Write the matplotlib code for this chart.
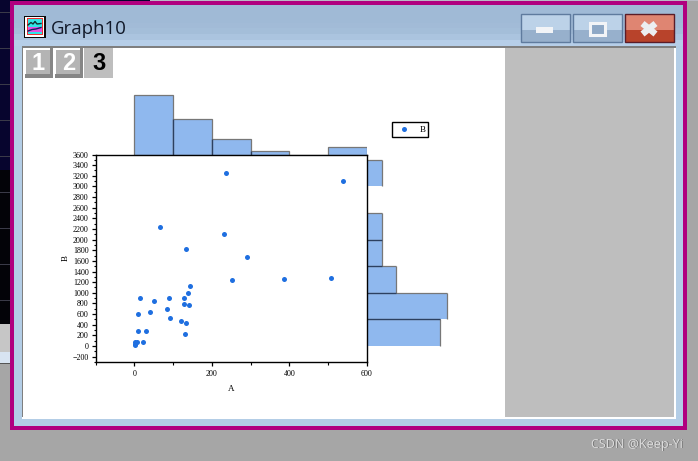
import numpy as np
import matplotlib
matplotlib.use("Agg")
import matplotlib.pyplot as plt
from matplotlib.patches import Rectangle

# ---- data ----
A = [134, 290, 253, 144.5, 138.5, 14, 90, 129, 52, 127, 141, 84, 41.5, 10, 93, 120, 134,
     10, 29, 132, 23, 8, 1, 1, 2, 67, 232, 237, 539, 386, 507]
B = [1830, 1673, 1240, 1134, 990, 896, 902, 896, 840, 796, 764, 689, 633, 595, 520, 476, 426,
     276, 276, 220, 70, 70, 70, 13, 40, 2243, 2111, 3258, 3107, 1259, 1283]
A_bins = [0, 100, 200, 300, 400, 500, 600]
B_bins = [0, 500, 1000, 1500, 2000, 2500, 3000, 3500]
x_ticks = [0, 200, 400, 600]
y_ticks = list(range(-200, 3601, 200))
tabs = ["1", "2", "3"]

W, H = 698, 461
fig = plt.figure(figsize=(W / 100, H / 100), dpi=100)
bg = fig.add_axes([0, 0, 1, 1])


def box(x0, y0, x1, y1, color, z=1):
    bg.add_patch(Rectangle((x0, y0), x1 - x0, y1 - y0, facecolor=color, edgecolor="none", zorder=z))


# desktop behind the window
box(0, 0, W, H, "#a6a6a6")
box(0, 0, 150, 1, "#07052e")
box(150, 0, W, 1, "#b9b9c4")
box(0, 0, 10, 170, "#07052e")
box(0, 170, 10, 324, "#030308")
for yy in range(12, 324, 36):
    box(0, yy, 10, yy + 1, "#3a3a48", 1.1)
box(0, 324, 10, 352, "#c6c6c6")
box(0, 352, 10, 363, "#d8e4f2")
box(0, 363, 10, 364, "#555555")

# window frame
box(10, 1, 687, 430, "#b0007f", 2)
box(14, 5, 683, 426, "#b3cde6", 3)
bg.imshow(np.array([0, 0, 0, 0.1, 0.2, 0.5, 1]).reshape(-1, 1), extent=(14, 683, 46, 5), aspect="auto",
          cmap=matplotlib.colors.LinearSegmentedColormap.from_list("t", ["#a0bad6", "#b6cee8"]), zorder=3.1)
bg.set_xlim(0, W)
bg.set_ylim(H, 0)
bg.axis("off")
box(22, 46, 676, 419, "#ffffff", 3.5)
box(22, 46, 676, 48, "#7f7f7f", 5)
box(22, 46, 23, 417, "#7f7f7f", 5)
box(23, 48, 505, 417, "#ffffff", 4)
box(505, 48, 674, 417, "#bebebe", 4)

# window icon
box(23.5, 16, 45.5, 38.5, "#0a0a0a", 5)
box(25, 17.5, 44, 37, "#ffffff", 5.1)
box(26.5, 18.5, 42.5, 35, "#ee3030", 5.2)
box(27.5, 19.5, 41.5, 34, "#2ee6e6", 5.3)
box(27.5, 27, 41.5, 32, "#e050e0", 5.4)
bg.plot([28, 31, 33, 35, 37, 41], [25, 22.5, 24, 21.5, 24, 23.5], color="#103030", lw=1, zorder=5.5)
bg.plot([28, 32, 36, 41], [31, 29.5, 29, 27.5], color="#102060", lw=1, zorder=5.5)
bg.text(51, 29.5, "Graph10", fontsize=13.4, family="Open Sans", color="#101828", va="center", ha="left", zorder=6)

# window buttons
for x0, x1, c1, c2, e in [(520.5, 569.5, "#bcd2e8", "#97b0cc", "#5f7b9e"),
                          (572.5, 621.5, "#bcd2e8", "#97b0cc", "#5f7b9e"),
                          (624.5, 673.5, "#df8572", "#b8432b", "#5a1c28")]:
    box(x0, 14.5, x1, 30, c1, 5)
    box(x0, 30, x1, 42.5, c2, 5)
    bg.add_patch(Rectangle((x0, 14.5), x1 - x0, 28, fill=False, edgecolor=e, lw=1, zorder=5.5))
box(536, 27, 553, 33, "#f2f4f7", 6)
bg.add_patch(Rectangle((589.5, 23), 15, 12, facecolor="#8ea8c6", edgecolor="#f2f4f7", lw=2.2, zorder=6))
bg.plot([642.5, 655.5], [23.5, 34], color="#eceef1", lw=4.6, zorder=6, solid_capstyle="butt")
bg.plot([642.5, 655.5], [34, 23.5], color="#eceef1", lw=4.6, zorder=6, solid_capstyle="butt")

# page tabs
for i, (t, x0) in enumerate(zip(tabs, [24.5, 54.5, 83.5])):
    x1 = x0 + 29
    if i < 2:
        box(x0, 48.5, x1 - 1, 78, "#868686", 5)
        box(x0, 48.5, x1 - 4, 74.5, "#ffffff", 5.1)
        box(x0 + 1.5, 50.5, x1 - 4, 74.5, "#b4b4b4", 5.2)
        bg.text(x0 + 14, 63.5, t, fontsize=17, fontweight="bold", family="Liberation Sans", color="#ffffff",
                ha="center", va="center", zorder=6)
    else:
        box(x0, 48, x1, 78, "#bebebe", 5)
        bg.text(x0 + 15.5, 63.5, t, fontsize=17, fontweight="bold", family="Liberation Sans", color="#000000",
                ha="center", va="center", zorder=6)

bg.text(683.5, 444.5, "CSDN @Keep-Yi", fontsize=9, family="Open Sans", color="#777777", ha="right", va="center", zorder=6)
bg.text(683, 444, "CSDN @Keep-Yi", fontsize=9, family="Open Sans", color="#dcdcdc", ha="right", va="center", zorder=6.1)


def axes_px(x0, y0, x1, y1, **kw):
    return fig.add_axes([x0 / W, 1 - y1 / H, (x1 - x0) / W, (y1 - y0) / H], **kw)


L, R, T, Bm = 95.5, 367, 154.5, 362
xlim = (-100, 600)
ylim = (-301, 3600)
bar_fc = "#8fb8ee"
edge_out = "#777777"
edge_in = "#2c4060"
lw_e = 0.9

# top marginal histogram
top = axes_px(L, T - 66, R, T)
cA, _ = np.histogram(A, bins=A_bins)
top.bar(A_bins[:-1], cA, width=100, align="edge", color=bar_fc, edgecolor=edge_out, lw=lw_e)
for k in range(1, len(cA)):
    top.vlines(A_bins[k], 0, min(cA[k - 1], cA[k]), color=edge_in, lw=lw_e)
top.set_xlim(xlim)
top.set_ylim(0, 66 / 3.95)
top.axis("off")

# right marginal histogram
right = axes_px(R, T, R + 90, Bm)
cB, _ = np.histogram(B, bins=B_bins)
right.barh(B_bins[:-1], cB, height=500, align="edge", color=bar_fc, edgecolor="none")
for k, c in enumerate(cB):
    if c:
        right.vlines(c, B_bins[k], B_bins[k + 1], color=edge_out, lw=lw_e)
        right.hlines(B_bins[k + 1], 0, c, color=edge_out, lw=lw_e)
        if k and cB[k - 1]:
            right.hlines(B_bins[k], 0, min(cB[k - 1], c), color=edge_in, lw=lw_e)
right.set_ylim(ylim)
right.set_xlim(0, 90 / 7.26)
right.axis("off")

# main scatter
ax = axes_px(L, T, R, Bm)
ax.set_zorder(5)
ax.set_facecolor("white")
ax.plot(A, B, "o", color="#1f6fe0", ms=3.6, mew=0, clip_on=False, label="B")
ax.set_xlim(xlim)
ax.set_ylim(ylim)
ax.set_xticks(x_ticks)
ax.set_xticks([-100, 100, 300, 500], minor=True)
ax.set_yticks(y_ticks)
ax.set_yticks(np.arange(-300, 3600, 200), minor=True)
ax.tick_params(which="major", length=2.9, width=0.9, labelsize=5.8, pad=2)
ax.tick_params(axis="x", which="major", pad=3)
ax.tick_params(which="minor", length=1.8, width=0.8)
for lab in ax.get_xticklabels() + ax.get_yticklabels():
    lab.set_family("Liberation Serif")
for s in ax.spines.values():
    s.set_linewidth(1)
ax.set_xlabel("A", fontsize=6.5, family="Liberation Serif", labelpad=5)
ax.set_ylabel("B", fontsize=6.5, family="Liberation Serif", labelpad=2)

# legend box
bg.add_patch(Rectangle((391.5, 121.5), 36, 15, facecolor="white", edgecolor="black", lw=1, zorder=6))
bg.plot([404], [129], "o", color="#1f6fe0", ms=3.6, mew=0, zorder=7)
bg.text(423, 129.5, "B", fontsize=6.5, family="Liberation Serif", ha="center", va="center", zorder=7)

fig.savefig("out.png", dpi=100)
